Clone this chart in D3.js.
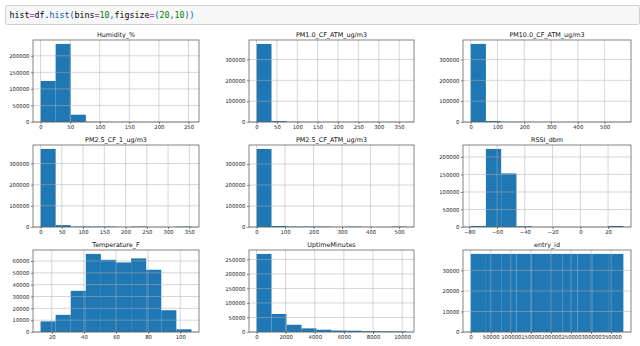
<!DOCTYPE html>
<html>
<head>
<meta charset="utf-8">
<script src="https://cdn.jsdelivr.net/npm/d3@7"></script>
<style>
  html, body { margin: 0; padding: 0; background: #fff; }
  svg { display: block; }
  .tick text { font-family: "DejaVu Sans", sans-serif; fill: #222; }
  .tick line { stroke: #333; stroke-width: 0.6; }
</style>
</head>
<body>
<svg id="fig" width="640" height="346"></svg>
<script>
// Column titles, in grid order
const titles = [
  "Humidity_%", "PM1.0_CF_ATM_ug/m3", "PM10.0_CF_ATM_ug/m3",
  "PM2.5_CF_1_ug/m3", "PM2.5_CF_ATM_ug/m3", "RSSI_dbm",
  "Temperature_F", "UptimeMinutes", "entry_id"
];

// Data range [min, max] of each column (10 equal bins between them)
const binRanges = [
  [0, 255], [0, 368], [0, 570],
  [0, 355], [0, 526], [-79, 31],
  [13, 107], [0, 10300], [1, 380450]
];

// Bin counts per column
const humidityCounts    = [124000, 236000, 22000, 400, 150, 80, 40, 20, 10, 30];
const pm10Counts        = [375000, 4500, 600, 300, 150, 80, 60, 40, 30, 40];
const pm100Counts       = [375000, 4500, 700, 300, 150, 90, 60, 40, 30, 40];
const pm25Cf1Counts     = [369000, 9000, 1800, 1800, 1800, 0, 1800, 0, 0, 1800];
const pm25AtmCounts     = [372000, 5000, 1800, 1800, 1800, 0, 1800, 0, 0, 1800];
const rssiCounts        = [3000, 223000, 153000, 2000, 0, 0, 0, 0, 0, 3000];
const temperatureCounts = [9000, 14500, 34800, 66000, 61000, 58800, 62200, 52600, 18400, 2300];
const uptimeCounts      = [269000, 62000, 25000, 12500, 7800, 5000, 4500, 3000, 2500, 2200];
const entryIdCounts     = [38045, 38045, 38045, 38045, 38045, 38045, 38045, 38045, 38045, 38045];

const allCounts = [
  humidityCounts, pm10Counts, pm100Counts,
  pm25Cf1Counts, pm25AtmCounts, rssiCounts,
  temperatureCounts, uptimeCounts, entryIdCounts
];

// Tick labels per column
const xTicks = [
  [0, 50, 100, 150, 200, 250],
  [0, 50, 100, 150, 200, 250, 300, 350],
  [0, 100, 200, 300, 400, 500],
  [0, 50, 100, 150, 200, 250, 300, 350],
  [0, 100, 200, 300, 400, 500],
  [-80, -60, -40, -20, 0, 20],
  [20, 40, 60, 80, 100],
  [0, 2000, 4000, 6000, 8000, 10000],
  [0, 50000, 100000, 150000, 200000, 250000, 300000, 350000]
];
const yTicks = [
  [0, 50000, 100000, 150000, 200000],
  [0, 100000, 200000, 300000],
  [0, 100000, 200000, 300000],
  [0, 100000, 200000, 300000],
  [0, 100000, 200000, 300000],
  [0, 50000, 100000, 150000, 200000],
  [0, 10000, 20000, 30000, 40000, 50000, 60000],
  [0, 50000, 100000, 150000, 200000, 250000],
  [0, 10000, 20000, 30000]
];

// ---- layout ----
const svg = d3.select("#fig");
const colLeft = [33, 249, 463];
const colRight = [199, 414, 631];
const rowTop = [40, 145, 250];
const panelH = 82;
const barColor = "#1f77b4";
const gridColor = "#b0b0b0";
const fmt = d3.format("d");

// Notebook code cell
const cell = svg.append("g");
cell.append("rect")
  .attr("x", 5.5).attr("y", 5.5).attr("width", 634).attr("height", 19)
  .attr("rx", 2).attr("fill", "#f7f7f7").attr("stroke", "#cfcfcf").attr("stroke-width", 1);
const code = cell.append("text")
  .attr("x", 9.5).attr("y", 18)
  .attr("font-family", "'DejaVu Sans Mono', monospace")
  .attr("font-size", 8.3);
[
  ["hist", "#000"], ["=", "#aa22ff"], ["df", "#000"], [".", "#000"], ["hist", "#0055aa"],
  ["(", "#0055aa"], ["bins", "#000"], ["=", "#aa22ff"], ["10", "#008800"], [",", "#0055aa"],
  ["figsize", "#000"], ["=", "#aa22ff"], ["(", "#0055aa"], ["20", "#008800"], [",", "#0055aa"],
  ["10", "#008800"], ["))", "#0055aa"]
].forEach(([t, c]) => code.append("tspan").attr("fill", c).text(t));

titles.forEach((title, i) => {
  const col = i % 3, row = Math.floor(i / 3);
  const x0 = colLeft[col], x1 = colRight[col];
  const y0 = rowTop[row], y1 = rowTop[row] + panelH;
  const [lo, hi] = binRanges[i];
  const span = hi - lo;
  const counts = allCounts[i];
  const edges = d3.range(11).map(k => lo + k * span / 10);
  const bins = counts.map((c, k) => ({ a: edges[k], b: edges[k + 1], c }));

  const x = d3.scaleLinear().domain([lo - 0.05 * span, hi + 0.05 * span]).range([x0, x1]);
  const y = d3.scaleLinear().domain([0, 1.05 * d3.max(counts)]).range([y1, y0]);

  const g = svg.append("g");

  // bars
  g.selectAll("rect.bar").data(bins).join("rect")
    .attr("class", "bar")
    .attr("x", d => x(d.a))
    .attr("width", d => x(d.b) - x(d.a))
    .attr("y", d => y(d.c))
    .attr("height", d => y(0) - y(d.c))
    .attr("fill", barColor);

  // grid lines drawn over the bars
  const grid = g.append("g").attr("stroke", gridColor).attr("stroke-width", 0.6).attr("opacity", 0.85);
  grid.selectAll("line.v").data(xTicks[i]).join("line")
    .attr("x1", d => x(d)).attr("x2", d => x(d)).attr("y1", y0).attr("y2", y1);
  grid.selectAll("line.h").data(yTicks[i]).join("line")
    .attr("x1", x0).attr("x2", x1).attr("y1", d => y(d)).attr("y2", d => y(d));

  // axes
  const ax = g.append("g").attr("transform", `translate(0,${y1})`)
    .call(d3.axisBottom(x).tickValues(xTicks[i]).tickFormat(fmt).tickSize(2).tickPadding(1.6));
  const ay = g.append("g").attr("transform", `translate(${x0},0)`)
    .call(d3.axisLeft(y).tickValues(yTicks[i]).tickFormat(fmt).tickSize(2).tickPadding(1.6));
  [ax, ay].forEach(a => {
    a.select(".domain").remove();
    a.selectAll("text").attr("font-size", 5.3).attr("font-family", "'DejaVu Sans', sans-serif");
  });

  // frame
  g.append("rect")
    .attr("x", x0).attr("y", y0).attr("width", x1 - x0).attr("height", panelH)
    .attr("fill", "none").attr("stroke", "#333").attr("stroke-width", 0.6);

  // title
  g.append("text")
    .attr("x", (x0 + x1) / 2).attr("y", y0 - 2.7)
    .attr("text-anchor", "middle")
    .attr("font-family", "'DejaVu Sans', sans-serif")
    .attr("font-size", 6.4).attr("fill", "#111")
    .text(title);
});
</script>
</body>
</html>
